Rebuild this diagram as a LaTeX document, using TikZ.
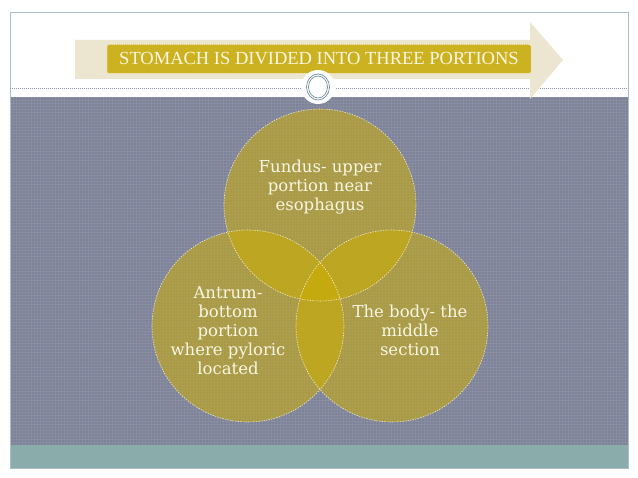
\documentclass[tikz,border=0pt]{standalone}
\usepackage{fontspec}
\setmainfont{DejaVu Serif}
\newfontfamily\titlefont{Liberation Serif}
\definecolor{slidegray}{RGB}{127,131,153}
\definecolor{gridgray}{RGB}{150,154,172}
\definecolor{teal}{RGB}{138,172,170}
\definecolor{beige}{RGB}{236,229,208}
\definecolor{labelyellow}{RGB}{204,178,32}
\definecolor{circfill}{RGB}{205,175,0}
\definecolor{cream}{RGB}{250,246,228}
\definecolor{framecol}{RGB}{170,190,200}
\definecolor{ringblue}{RGB}{95,125,145}
\definecolor{dotcol}{RGB}{140,150,170}
\tikzset{
  venn/.style={fill=circfill,fill opacity=0.53},
  vennline/.style={draw=cream,line width=0.6pt,dash pattern=on 1.4pt off 1.2pt,draw opacity=0.85},
  venntext/.style={text=cream,align=center,font=\fontsize{16.5}{19}\selectfont},
}
\begin{document}
\begin{tikzpicture}[x=1pt,y=-1pt]
\useasboundingbox (0,0) rectangle (638,478);
\fill[white] (0,0) rectangle (638,478);
% gray area
\fill[slidegray] (10,97) rectangle (628,445);
\begin{scope}
\clip (10,97) rectangle (628,445);
\foreach \i in {0,...,210} {\draw[gridgray,line width=0.3pt,opacity=0.35] (10+3*\i,97) -- (10+3*\i,445);}
\foreach \j in {0,...,117} {\draw[gridgray,line width=0.3pt,opacity=0.35] (10,97+3*\j) -- (628,97+3*\j);}
\end{scope}
% teal band
\fill[teal] (10,445) rectangle (628,468);
% frame
\draw[framecol,line width=0.6pt] (10,12) rectangle (628,468);
% dotted line
\draw[dotcol,line width=0.8pt,dash pattern=on 1pt off 1pt] (10,88) -- (628,88);
% arrow
\fill[beige] (75,40) -- (530,40) -- (530,22) -- (563,60) -- (530,99) -- (530,79) -- (75,79) -- cycle;
\node[fill=labelyellow,draw=cream,dash pattern=on 1pt off 1pt,line width=0.5pt,rounded corners=2pt,
  minimum width=424pt,minimum height=29pt,inner sep=0pt,text=cream,font=\titlefont\fontsize{18.5}{21}\selectfont]
  (title) at (319,59) {STOMACH IS DIVIDED INTO THREE PORTIONS};
% ring
\fill[white] (318,87) circle (17);
\draw[ringblue,line width=0.6pt] (318,87) ellipse (11.5 and 13);
\draw[ringblue,line width=0.6pt] (318,87) ellipse (9.5 and 11);
% circles
\fill[venn] (320,205) circle (96);
\fill[venn] (248,326) circle (96);
\fill[venn] (392,326) circle (96);
\node[circle,minimum size=192pt,vennline] (top) at (320,205) {};
\node[circle,minimum size=192pt,vennline] (left) at (248,326) {};
\node[circle,minimum size=192pt,vennline] (right) at (392,326) {};
\node[venntext] (ttop) at (320,187) {Fundus- upper\\portion near\\esophagus};
\node[venntext] (tleft) at (228,331) {Antrum-\\bottom\\portion\\where pyloric\\located};
\node[venntext] (tright) at (410,330) {The body- the\\middle\\section};
\end{tikzpicture}
\end{document}
